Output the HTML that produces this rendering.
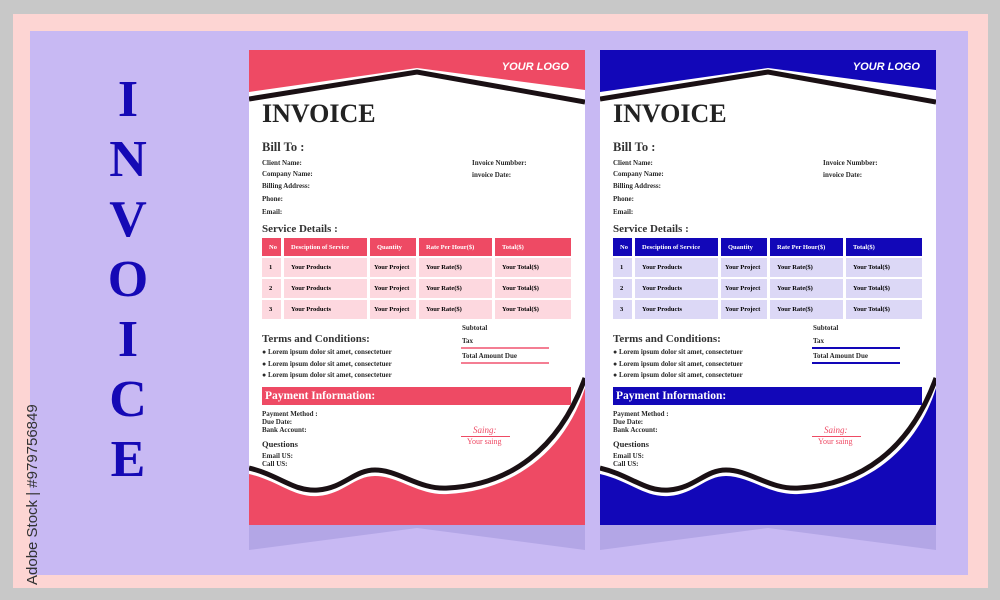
<!DOCTYPE html>
<html><head><meta charset="utf-8">
<style>
*{margin:0;padding:0;box-sizing:border-box}
body{width:1000px;height:600px;background:#c8c8c8;position:relative;overflow:hidden;font-family:"Liberation Serif",serif}
.abs{position:absolute}
#pinkframe{left:13px;top:14px;width:975px;height:574px;background:#fdd5d3}
#lav{left:30px;top:31px;width:938px;height:544px;background:#c8b9f3}
.vl{position:absolute;left:98px;width:60px;text-align:center;font:bold 52px "Liberation Serif",serif;color:#1509b5;line-height:40px}
#stock{left:24px;top:585px;transform:rotate(-90deg);transform-origin:0 0;font:15px "Liberation Sans",sans-serif;color:#333;white-space:nowrap}
.page{position:absolute;top:50px;width:336px;height:475px;background:#fff;overflow:visible}
.page svg.bg{position:absolute;left:0;top:0}
.t{position:absolute;white-space:nowrap;color:#2a2a2a}
.lbl{font:bold 7px "Liberation Serif",serif}
.logo{font:italic bold 11px "Liberation Sans",sans-serif;color:#fff;right:16px;top:11px}
.title{font:bold 26px "Liberation Serif",serif;left:13px;top:49px;color:#222}
.h2{font:bold 12.5px "Liberation Serif",serif;left:13px;color:#333}
.h3{font:bold 11px "Liberation Serif",serif;color:#333}
.cell{position:absolute;font:bold 6.5px "Liberation Serif",serif;padding-left:7px;display:flex;align-items:center}
.hc{color:#fff}
.pay{position:absolute;left:13px;top:337px;width:309px;height:18px;color:#fff;font:bold 11.5px "Liberation Serif",serif;padding-left:3px;line-height:18px}
.line{position:absolute;height:2px}
</style></head>
<body>
<div id="pinkframe" class="abs"></div>
<div id="lav" class="abs"></div>
<div class="vl" style="top:80px">I</div>
<div class="vl" style="top:140px">N</div>
<div class="vl" style="top:200px">V</div>
<div class="vl" style="top:260px">O</div>
<div class="vl" style="top:320px">I</div>
<div class="vl" style="top:380px">C</div>
<div class="vl" style="top:440px">E</div>
<div id="stock" class="abs">Adobe Stock | #979756849</div>

<!-- PAGE 1 (pink) -->
<div class="page" style="left:249px;--c:#ee4a64;--l:#fdd8df">
<svg class="bg" width="336" height="505">
<polygon points="0,0 336,0 336,40 168,18 0,42" fill="#ee4a64"/>
<polyline points="0,49 168,22 336,52" fill="none" stroke="#1a1014" stroke-width="5"/>
<path d="M0,424 C30,431 45,448 69,446 C95,444 105,426 126,426 C150,426 170,446 199,444 C260,441 315,405 336,338 L336,475 L0,475 Z" fill="#ee4a64"/>
<path d="M0,418 C30,425 45,442 69,440 C95,438 105,420 126,420 C150,420 170,440 199,438 C260,435 310,400 336,328" fill="none" stroke="#1a1014" stroke-width="5"/>
<polygon points="0,475 336,475 336,500 168,478 0,500" fill="#b3a6e6"/>
</svg>
<div class="t logo">YOUR LOGO</div>
<div class="t title">INVOICE</div>
<div class="t h2" style="top:90px">Bill To :</div>
<div class="t lbl" style="left:13px;top:109px">Client Name:</div>
<div class="t lbl" style="left:13px;top:120px">Company Name:</div>
<div class="t lbl" style="left:13px;top:132px">Billing Address:</div>
<div class="t lbl" style="left:13px;top:145px">Phone:</div>
<div class="t lbl" style="left:13px;top:158px">Email:</div>
<div class="t lbl" style="left:223px;top:109px">Invoice Numbber:</div>
<div class="t lbl" style="left:223px;top:121px">invoice Date:</div>
<div class="t h3" style="left:13px;top:173px">Service Details :</div>
<div>
<div class="cell hc" style="left:13px;top:188px;width:19px;height:18px;background:#ee4a64">No</div>
<div class="cell hc" style="left:35px;top:188px;width:83px;height:18px;background:#ee4a64">Desciption of Service</div>
<div class="cell hc" style="left:121px;top:188px;width:46px;height:18px;background:#ee4a64">Quantity</div>
<div class="cell hc" style="left:170px;top:188px;width:73px;height:18px;background:#ee4a64">Rate Per Hour($)</div>
<div class="cell hc" style="left:246px;top:188px;width:76px;height:18px;background:#ee4a64">Total($)</div>
<div class="cell" style="left:13px;top:208px;width:19px;height:19px;background:#fdd8df">1</div>
<div class="cell" style="left:35px;top:208px;width:83px;height:19px;background:#fdd8df">Your Products</div>
<div class="cell" style="left:121px;top:208px;width:46px;height:19px;background:#fdd8df;padding-left:4px">Your Project</div>
<div class="cell" style="left:170px;top:208px;width:73px;height:19px;background:#fdd8df">Your Rate($)</div>
<div class="cell" style="left:246px;top:208px;width:76px;height:19px;background:#fdd8df">Your Total($)</div>
<div class="cell" style="left:13px;top:229px;width:19px;height:19px;background:#fdd8df">2</div>
<div class="cell" style="left:35px;top:229px;width:83px;height:19px;background:#fdd8df">Your Products</div>
<div class="cell" style="left:121px;top:229px;width:46px;height:19px;background:#fdd8df;padding-left:4px">Your Project</div>
<div class="cell" style="left:170px;top:229px;width:73px;height:19px;background:#fdd8df">Your Rate($)</div>
<div class="cell" style="left:246px;top:229px;width:76px;height:19px;background:#fdd8df">Your Total($)</div>
<div class="cell" style="left:13px;top:250px;width:19px;height:19px;background:#fdd8df">3</div>
<div class="cell" style="left:35px;top:250px;width:83px;height:19px;background:#fdd8df">Your Products</div>
<div class="cell" style="left:121px;top:250px;width:46px;height:19px;background:#fdd8df;padding-left:4px">Your Project</div>
<div class="cell" style="left:170px;top:250px;width:73px;height:19px;background:#fdd8df">Your Rate($)</div>
<div class="cell" style="left:246px;top:250px;width:76px;height:19px;background:#fdd8df">Your Total($)</div>
</div>
<div class="t h3" style="left:13px;top:283px">Terms and Conditions:</div>
<div class="t lbl" style="left:13px;top:298px">● Lorem ipsum dolor sit amet, consectetuer</div>
<div class="t lbl" style="left:13px;top:310px">● Lorem ipsum dolor sit amet, consectetuer</div>
<div class="t lbl" style="left:13px;top:321px">● Lorem ipsum dolor sit amet, consectetuer</div>
<div class="t lbl" style="left:213px;top:274px">Subtotal</div>
<div class="t lbl" style="left:213px;top:287px">Tax</div>
<div class="line" style="left:212px;top:297px;width:88px;background:#f47e93"></div>
<div class="t lbl" style="left:213px;top:302px">Total Amount Due</div>
<div class="line" style="left:212px;top:312px;width:88px;background:#f47e93"></div>
<div class="pay" style="background:#ee4a64">Payment Information:</div>
<div class="t lbl" style="left:13px;top:360px">Payment Method :</div>
<div class="t lbl" style="left:13px;top:368px">Due Date:</div>
<div class="t lbl" style="left:13px;top:376px">Bank Account:</div>
<div class="t" style="left:13px;top:389px;font:bold 8.5px 'Liberation Serif',serif">Questions</div>
<div class="t lbl" style="left:13px;top:402px">Email US:</div>
<div class="t lbl" style="left:13px;top:410px">Call US:</div>
<div class="t" style="left:224px;top:375px;font:italic 9px 'Liberation Serif',serif;color:#ee4a64">Saing:</div>
<div class="line" style="left:212px;top:386px;width:49px;height:1px;background:#ee4a64"></div>
<div class="t" style="left:218px;top:387px;font:8px 'Liberation Serif',serif;color:#ee4a64">Your saing</div>
</div>

<!-- PAGE 2 (blue) -->
<div class="page" style="left:600px">
<svg class="bg" width="336" height="505">
<polygon points="0,0 336,0 336,40 168,18 0,42" fill="#1207b8"/>
<polyline points="0,49 168,22 336,52" fill="none" stroke="#1a1014" stroke-width="5"/>
<path d="M0,424 C30,431 45,448 69,446 C95,444 105,426 126,426 C150,426 170,446 199,444 C260,441 315,405 336,338 L336,475 L0,475 Z" fill="#1207b8"/>
<path d="M0,418 C30,425 45,442 69,440 C95,438 105,420 126,420 C150,420 170,440 199,438 C260,435 310,400 336,328" fill="none" stroke="#1a1014" stroke-width="5"/>
<polygon points="0,475 336,475 336,500 168,478 0,500" fill="#b3a6e6"/>
</svg>
<div class="t logo">YOUR LOGO</div>
<div class="t title">INVOICE</div>
<div class="t h2" style="top:90px">Bill To :</div>
<div class="t lbl" style="left:13px;top:109px">Client Name:</div>
<div class="t lbl" style="left:13px;top:120px">Company Name:</div>
<div class="t lbl" style="left:13px;top:132px">Billing Address:</div>
<div class="t lbl" style="left:13px;top:145px">Phone:</div>
<div class="t lbl" style="left:13px;top:158px">Email:</div>
<div class="t lbl" style="left:223px;top:109px">Invoice Numbber:</div>
<div class="t lbl" style="left:223px;top:121px">invoice Date:</div>
<div class="t h3" style="left:13px;top:173px">Service Details :</div>
<div>
<div class="cell hc" style="left:13px;top:188px;width:19px;height:18px;background:#1207b8">No</div>
<div class="cell hc" style="left:35px;top:188px;width:83px;height:18px;background:#1207b8">Desciption of Service</div>
<div class="cell hc" style="left:121px;top:188px;width:46px;height:18px;background:#1207b8">Quantity</div>
<div class="cell hc" style="left:170px;top:188px;width:73px;height:18px;background:#1207b8">Rate Per Hour($)</div>
<div class="cell hc" style="left:246px;top:188px;width:76px;height:18px;background:#1207b8">Total($)</div>
<div class="cell" style="left:13px;top:208px;width:19px;height:19px;background:#dcd8f6">1</div>
<div class="cell" style="left:35px;top:208px;width:83px;height:19px;background:#dcd8f6">Your Products</div>
<div class="cell" style="left:121px;top:208px;width:46px;height:19px;background:#dcd8f6;padding-left:4px">Your Project</div>
<div class="cell" style="left:170px;top:208px;width:73px;height:19px;background:#dcd8f6">Your Rate($)</div>
<div class="cell" style="left:246px;top:208px;width:76px;height:19px;background:#dcd8f6">Your Total($)</div>
<div class="cell" style="left:13px;top:229px;width:19px;height:19px;background:#dcd8f6">2</div>
<div class="cell" style="left:35px;top:229px;width:83px;height:19px;background:#dcd8f6">Your Products</div>
<div class="cell" style="left:121px;top:229px;width:46px;height:19px;background:#dcd8f6;padding-left:4px">Your Project</div>
<div class="cell" style="left:170px;top:229px;width:73px;height:19px;background:#dcd8f6">Your Rate($)</div>
<div class="cell" style="left:246px;top:229px;width:76px;height:19px;background:#dcd8f6">Your Total($)</div>
<div class="cell" style="left:13px;top:250px;width:19px;height:19px;background:#dcd8f6">3</div>
<div class="cell" style="left:35px;top:250px;width:83px;height:19px;background:#dcd8f6">Your Products</div>
<div class="cell" style="left:121px;top:250px;width:46px;height:19px;background:#dcd8f6;padding-left:4px">Your Project</div>
<div class="cell" style="left:170px;top:250px;width:73px;height:19px;background:#dcd8f6">Your Rate($)</div>
<div class="cell" style="left:246px;top:250px;width:76px;height:19px;background:#dcd8f6">Your Total($)</div>
</div>
<div class="t h3" style="left:13px;top:283px">Terms and Conditions:</div>
<div class="t lbl" style="left:13px;top:298px">● Lorem ipsum dolor sit amet, consectetuer</div>
<div class="t lbl" style="left:13px;top:310px">● Lorem ipsum dolor sit amet, consectetuer</div>
<div class="t lbl" style="left:13px;top:321px">● Lorem ipsum dolor sit amet, consectetuer</div>
<div class="t lbl" style="left:213px;top:274px">Subtotal</div>
<div class="t lbl" style="left:213px;top:287px">Tax</div>
<div class="line" style="left:212px;top:297px;width:88px;background:#1207b8"></div>
<div class="t lbl" style="left:213px;top:302px">Total Amount Due</div>
<div class="line" style="left:212px;top:312px;width:88px;background:#1207b8"></div>
<div class="pay" style="background:#1207b8">Payment Information:</div>
<div class="t lbl" style="left:13px;top:360px">Payment Method :</div>
<div class="t lbl" style="left:13px;top:368px">Due Date:</div>
<div class="t lbl" style="left:13px;top:376px">Bank Account:</div>
<div class="t" style="left:13px;top:389px;font:bold 8.5px 'Liberation Serif',serif">Questions</div>
<div class="t lbl" style="left:13px;top:402px">Email US:</div>
<div class="t lbl" style="left:13px;top:410px">Call US:</div>
<div class="t" style="left:224px;top:375px;font:italic 9px 'Liberation Serif',serif;color:#ee4a64">Saing:</div>
<div class="line" style="left:212px;top:386px;width:49px;height:1px;background:#ee4a64"></div>
<div class="t" style="left:218px;top:387px;font:8px 'Liberation Serif',serif;color:#ee4a64">Your saing</div>
</div>
</body></html>
